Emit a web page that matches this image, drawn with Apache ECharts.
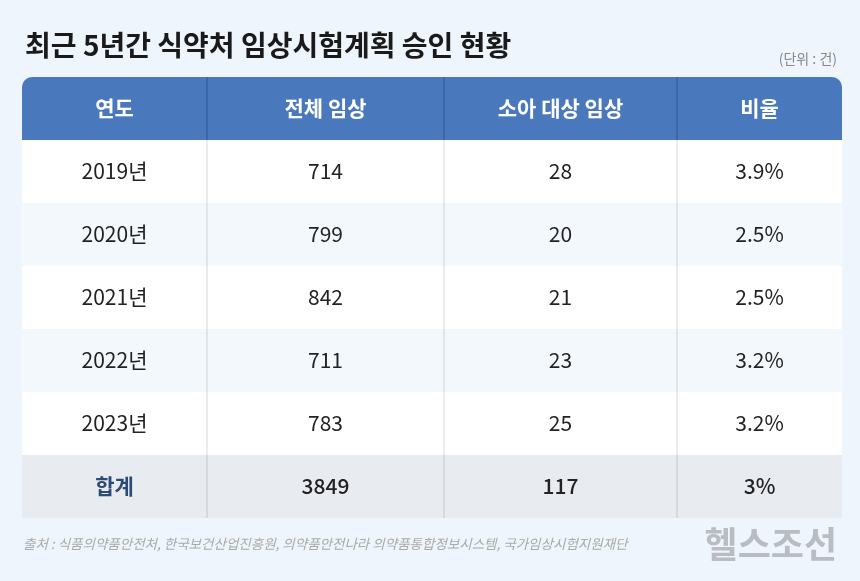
<!DOCTYPE html>
<html><head><meta charset="utf-8">
<script src="https://cdn.jsdelivr.net/npm/echarts@6/dist/echarts.min.js"></script>
<style>html,body{margin:0;background:#eef5fc;}#main{width:860px;height:581px;}</style>
</head><body><div id="main"></div>
<script>
var headers = ['연도', '전체 임상', '소아 대상 임상', '비율'];
var years = ['2019년', '2020년', '2021년', '2022년', '2023년', '합계'];
var totalTrials = ['714', '799', '842', '711', '783', '3849'];
var childTrials = ['28', '20', '21', '23', '25', '117'];
var ratios = ['3.9%', '2.5%', '2.5%', '3.2%', '3.2%', '3%'];

// column edges as fractions of table width
var colEdges = [0, 185 / 820, 422 / 820, 655 / 820, 1];
var rowNames = ['header'].concat(years);

var cells = [];
rowNames.forEach(function (r, i) {
	var vals = i == 0 ? headers : [years[i - 1], totalTrials[i - 1], childTrials[i - 1], ratios[i - 1]];
	for (var c = 0; c < 4; c++) cells.push([c, i, vals[c]]);
});

function renderCell(params, api) {
	var c = api.value(0), row = api.value(1), txt = api.value(2);
	var x0 = api.coord([colEdges[c], row]);
	var x1 = api.coord([colEdges[c + 1], row]);
	var h = api.size([0, 1])[1];
	var y = x0[1] - h / 2;
	var fill, color = '#222', weight = 'normal';
	if (row == 0) { fill = '#4a78bd'; color = '#fff'; weight = 'bold'; }
	else if (row == 6) { fill = '#e8ebef'; weight = '500'; if (c == 0) { color = '#2c4a78'; weight = 'bold'; } }
	else fill = row % 2 == 0 ? '#f3f8fd' : '#ffffff';
	var r = 0;
	if (row == 0 && c == 0) r = [10, 0, 0, 0];
	if (row == 0 && c == 3) r = [0, 10, 0, 0];
	var children = [{
		type: 'rect', shape: { x: x0[0], y: y, width: x1[0] - x0[0], height: h, r: r },
		style: { fill: fill }
	}, {
		type: 'text', style: {
			text: txt, x: (x0[0] + x1[0]) / 2, y: x0[1], align: 'center', verticalAlign: 'middle',
			fill: color, font: weight + ' 21px "Noto Sans CJK KR", sans-serif'
		}
	}];
	if (c > 0) children.push({
		type: 'line', shape: { x1: x0[0], y1: y, x2: x0[0], y2: y + h },
		style: { stroke: row == 0 ? '#3d67a6' : 'rgba(0,0,0,0.08)', lineWidth: 2 }
	});
	return { type: 'group', children: children };
}

var chart = echarts.init(document.getElementById('main'));
chart.setOption({
	backgroundColor: '#eef5fc',
	grid: { left: 22, right: 18, top: 77, bottom: 63 },
	xAxis: { type: 'value', min: 0, max: 1, show: false },
	yAxis: { type: 'category', data: rowNames, inverse: true, show: false },
	title: [{
		text: '최근 5년간 식약처 임상시험계획 승인 현황', left: 20, top: 26,
		textStyle: { fontSize: 28, fontWeight: 'bold', color: '#1a1a1a', fontFamily: 'Noto Sans CJK KR' }
	}, {
		text: '(단위 : 건)', right: 18, top: 47,
		textStyle: { fontSize: 14, fontWeight: 'normal', color: '#888', fontFamily: 'Noto Sans CJK KR' }
	}, {
		text: '출처 : 식품의약품안전처, 한국보건산업진흥원, 의약품안전나라 의약품통합정보시스템, 국가임상시험지원재단',
		left: 18, top: 532,
		textStyle: { fontSize: 13.5, fontWeight: 'normal', fontStyle: 'italic', color: '#aaa', fontFamily: 'Noto Sans CJK KR' }
	}, {
		text: '헬스조선', right: 18, top: 521,
		textStyle: { fontSize: 36, fontWeight: 'bold', color: '#b9bdc3', fontFamily: 'Noto Sans CJK KR' }
	}],
	series: [{
		type: 'custom', renderItem: renderCell, data: cells,
		encode: { x: 0, y: 1 }, animation: false
	}]
});
</script></body></html>
